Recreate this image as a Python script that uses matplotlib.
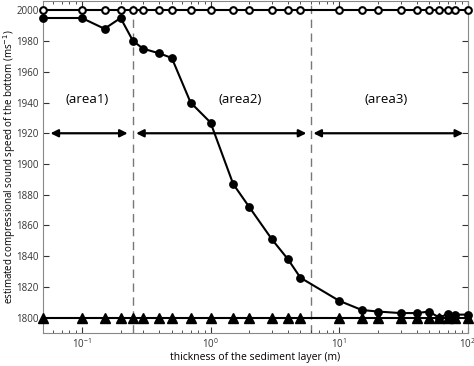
import matplotlib
matplotlib.use("Agg")
import matplotlib.pyplot as plt

plt.rcParams['font.family'] = ['Open Sans', 'DejaVu Sans']

# layer thickness (m)
thickness = [0.05, 0.1, 0.15, 0.2, 0.25, 0.3, 0.4, 0.5, 0.7, 1, 1.5, 2, 3, 4, 5,
             10, 15, 20, 30, 40, 50, 60, 70, 80, 100]
# estimated speed (m/s)
estimated = [1995, 1995, 1988, 1995, 1980, 1975, 1972, 1969, 1940, 1927, 1887, 1872,
             1851, 1838, 1826, 1811, 1805, 1804, 1803, 1803, 1804, 1800, 1802.5, 1802, 1802]
upper = [2000] * len(thickness)
lower = [1800] * len(thickness)

boundaries = [0.25, 6]
area_names = ["(area1)", "(area2)", "(area3)"]
label_x = [0.11, 1.7, 23]
label_y = 1942
arrow_spans = [(0.057, 0.227), (0.264, 5.56), (6.3, 92)]
arrow_y = 1920

fig = plt.figure(figsize=(4.74, 3.66), dpi=100)
ax = fig.add_axes([0.091, 0.09, 0.896, 0.907])

ax.plot(thickness, upper, color='black', lw=1.5, marker='o', ms=4.8,
        mfc='white', mec='black', mew=1.5, clip_on=False, zorder=3)
ax.plot(thickness, estimated, color='black', lw=1.5, marker='o', ms=5.3,
        mfc='black', mec='black', clip_on=False, zorder=3)
ax.plot(thickness, lower, color='black', lw=1.5, marker='^', ms=6.5,
        mfc='black', mec='black', clip_on=False, zorder=3)

for b in boundaries:
    ax.axvline(b, color='#777777', lw=1, ls=(0, (6, 4)), zorder=1)

for (x0, x1) in arrow_spans:
    ax.annotate('', xy=(x1, arrow_y), xytext=(x0, arrow_y),
                arrowprops=dict(arrowstyle='<|-|>', color='black', lw=1.6,
                                mutation_scale=11, shrinkA=0, shrinkB=0))

for name, lx in zip(area_names, label_x):
    ax.text(lx, label_y, name, ha='center', va='center', fontsize=9.5)

ax.set_xscale('log')
ax.set_xlim(0.05, 100)
ax.set_ylim(1790, 2006)
ax.set_yticks(range(1800, 2001, 20))
ax.tick_params(which='both', direction='in', top=True, right=True,
               labelsize=7, colors='#333333', pad=3)
ax.tick_params(which='major', length=4)
ax.tick_params(which='minor', length=2)
for s in ax.spines.values():
    s.set_color('#888888')
    s.set_linewidth(0.8)

ax.set_xlabel("thickness of the sediment layer (m)", fontsize=7.5, labelpad=1)
ax.set_ylabel("estimated compressional sound speed of the bottom (ms$^{-1}$)",
              fontsize=7)
ax.yaxis.set_label_coords(-0.06, 0.5)

fig.savefig("out.png", dpi=100)
